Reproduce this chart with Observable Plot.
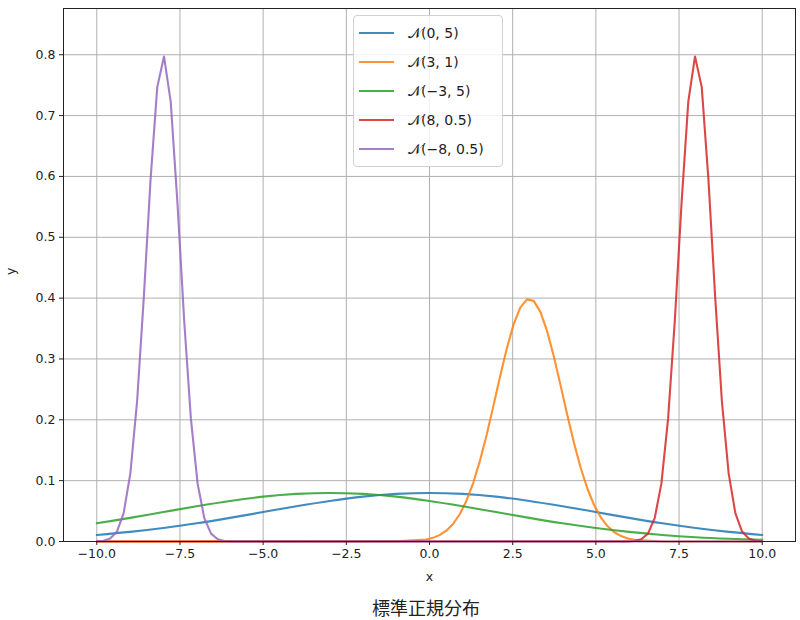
<!DOCTYPE html>
<html><head><meta charset="utf-8">
<script src="https://cdn.jsdelivr.net/npm/d3@7"></script>
<script src="https://cdn.jsdelivr.net/npm/@observablehq/plot@0.6"></script>
<style>
body{margin:0;background:#fff;font-family:"DejaVu Sans","Noto Sans CJK JP",sans-serif;}
#wrap{position:relative;width:800px;height:620px;}
#legend{position:absolute;left:353px;top:15px;width:150px;height:152px;border:1px solid #d0d0d0;border-radius:4px;background:rgba(255,255,255,0.85);box-sizing:border-box;}
.item{position:absolute;left:5px;height:20px;display:flex;align-items:center;font-size:14px;color:#222;}
.sw{width:35px;height:0;border-top:2.2px solid;margin-right:14px;}
#title{position:absolute;left:0;top:594px;width:852px;text-align:center;font-size:18px;line-height:26px;font-family:"Noto Sans CJK JP",sans-serif;color:#222;}
</style></head>
<body><div id="wrap"><div id="chart"></div><div id="legend"></div><div id="title">標準正規分布</div></div>
<script>
const seriesNames = ["𝒩(0, 5)", "𝒩(3, 1)", "𝒩(−3, 5)", "𝒩(8, 0.5)", "𝒩(−8, 0.5)"];
const colors = ["#1f77b4", "#ff7f0e", "#2ca02c", "#d62728", "#9467bd"];

const blueX = [-10,-9,-8,-7,-6,-5,-4,-3,-2,-1,0,1,2,3,4,5,6,7,8,9,10];
const blueY = [0.0108,0.0158,0.0222,0.0299,0.0388,0.0484,0.0579,0.0666,0.0737,0.0782,0.0798,0.0782,0.0737,0.0666,0.0579,0.0484,0.0388,0.0299,0.0222,0.0158,0.0108];

const greenX = [-10,-9,-8,-7,-6,-5,-4,-3,-2,-1,0,1,2,3,4,5,6,7,8,9,10];
const greenY = [0.0299,0.0388,0.0484,0.0579,0.0666,0.0737,0.0782,0.0798,0.0782,0.0737,0.0666,0.0579,0.0484,0.0388,0.0299,0.0222,0.0158,0.0108,0.0071,0.0045,0.0027];

const orangeX = [-10,-1.0,-0.101,0.101,0.303,0.505,0.707,0.909,1.111,1.313,1.515,1.717,1.919,2.121,2.323,2.525,2.727,2.929,3.131,3.333,3.535,3.737,3.939,4.141,4.343,4.545,4.747,4.949,5.152,5.354,5.556,5.758,5.960,6.162,7.0,10];
const orangeY = [0,0.0004,0.0033,0.0060,0.0105,0.0178,0.0288,0.0448,0.0670,0.0961,0.1325,0.1752,0.2225,0.2711,0.3173,0.3564,0.3844,0.3979,0.3955,0.3774,0.3457,0.3040,0.2566,0.2080,0.1618,0.1208,0.0867,0.0596,0.0394,0.0250,0.0152,0.0089,0.0050,0.0027,0.0001,0];

const redX = [-10,5.960,6.162,6.364,6.566,6.768,6.970,7.172,7.374,7.576,7.778,7.980,8.182,8.384,8.586,8.788,8.990,9.192,9.394,9.596,9.798,10];
const redY = [0,0.0002,0.0009,0.0038,0.0130,0.0383,0.0955,0.2023,0.3641,0.5567,0.7229,0.7972,0.7468,0.5943,0.4016,0.2305,0.1124,0.0466,0.0164,0.0049,0.0012,0.0003];

const purpleX = [-10,-9.798,-9.596,-9.394,-9.192,-8.990,-8.788,-8.586,-8.384,-8.182,-7.980,-7.778,-7.576,-7.374,-7.172,-6.970,-6.768,-6.566,-6.364,-6.162,-5.960,10];
const purpleY = [0.0003,0.0012,0.0049,0.0164,0.0466,0.1124,0.2305,0.4016,0.5943,0.7468,0.7972,0.7229,0.5567,0.3641,0.2023,0.0955,0.0383,0.0130,0.0038,0.0009,0.0002,0];

const xTicks = [-10,-7.5,-5,-2.5,0,2.5,5,7.5,10];
const yTicks = [0,0.1,0.2,0.3,0.4,0.5,0.6,0.7,0.8];

const seriesX = [blueX, orangeX, greenX, redX, purpleX];
const seriesY = [blueY, orangeY, greenY, redY, purpleY];
const smooth = [true, false, true, false, false];

const fmt = d3.format(".1f");
const lineMarks = seriesX.map((xs, i) => Plot.line(xs.map((x, j) => ({x, y: seriesY[i][j]})), {
  x: "x", y: "y", stroke: colors[i], strokeWidth: 2.1, strokeOpacity: 0.85,
  curve: smooth[i] ? "catmull-rom" : "linear"
}));

const chart = Plot.plot({
  width: 800, height: 592,
  marginLeft: 63, marginRight: 5, marginTop: 8, marginBottom: 51,
  style: {fontFamily: "DejaVu Sans, sans-serif", fontSize: "12.5px", color: "#222", background: "white"},
  x: {domain: [-11, 11], label: null},
  y: {domain: [0, 0.876], label: null},
  marks: [
    Plot.gridX(xTicks, {stroke: "#b0b0b0", strokeOpacity: 1, strokeWidth: 1}),
    Plot.gridY(yTicks, {stroke: "#b0b0b0", strokeOpacity: 1, strokeWidth: 1}),
    ...lineMarks,
    Plot.frame({stroke: "#222", strokeWidth: 1}),
    Plot.axisX(xTicks, {tickSize: 4, tickPadding: 4, tickFormat: fmt, fontSize: 12.5, stroke: "#222"}),
    Plot.axisY(yTicks, {tickSize: 4, tickPadding: 4, tickFormat: fmt, fontSize: 12.5, stroke: "#222"}),
    Plot.text(["x"], {frameAnchor: "bottom", dy: 39, fontSize: 12.5, fill: "#222"}),
    Plot.text(["y"], {frameAnchor: "left", dx: -53, rotate: -90, fontSize: 12.5, fill: "#222"})
  ]
});
document.getElementById("chart").appendChild(chart);

const legend = document.getElementById("legend");
const itemTops = [7, 36, 65, 94, 123];
seriesNames.forEach((n, i) => {
  const d = document.createElement("div");
  d.className = "item";
  d.style.top = itemTops[i] + "px";
  d.innerHTML = `<span class="sw" style="border-color:${colors[i]};opacity:0.85"></span><span>${n}</span>`;
  legend.appendChild(d);
});
</script></body></html>
